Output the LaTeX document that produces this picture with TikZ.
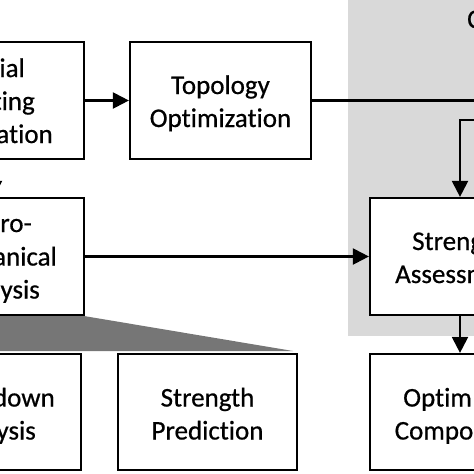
\documentclass[tikz,border=0pt]{standalone}
\usepackage{fontspec}
\setmainfont{Carlito}[Ligatures=NoCommon,FakeBold=0.6]
\usetikzlibrary{arrows.meta}
\definecolor{panelgray}{HTML}{D9D9D9}
\definecolor{zoomgray}{HTML}{767676}
\begin{document}
\begin{tikzpicture}[x=1pt,y=-1pt,
  box/.style={draw, line width=2.2pt, fill=white, inner sep=0pt},
  txt/.style={inner sep=0pt, font=\fontsize{27}{33}\selectfont},
  conn/.style={line width=2.2pt},
  arr/.style={conn, -{Triangle[length=16pt,width=16pt]}}]
\useasboundingbox (0,0) rectangle (474,474);
% panels
\fill[panelgray] (348,-10) rectangle (484,336);
\fill[zoomgray] (-10,316) -- (84,316) -- (293,351) -- (-10,351) -- cycle;
% boxes
\node[box, minimum width=180pt, minimum height=117pt] (b1) at (-6,100.5) {};
\node[box, minimum width=181pt, minimum height=117pt] (b2) at (220.5,100.5) {};
\node[box, minimum width=180pt, minimum height=117pt] (b3) at (-6,256.5) {};
\node[box, minimum width=180pt, minimum height=117pt] (sa) at (460,256.5) {};
\node[box, minimum width=179pt, minimum height=116pt] (b5) at (-8.5,412) {};
\node[box, minimum width=179pt, minimum height=116pt] (sp) at (207.5,412) {};
\node[box, minimum width=180pt, minimum height=116pt] (oc) at (460,412) {};
% texts
\node[txt, anchor=base west] (tc) at (467,28) {C};
\node[txt, anchor=base east] (t1a) at (25,77) {ial};
\node[txt, anchor=base east] (t1b) at (35,110) {ting};
\node[txt, anchor=base east] (t1c) at (53,143) {ation};
\node[txt, anchor=base] (t2a) at (220.5,94) {Topology};
\node[txt, anchor=base] (t2b) at (220.5,127) {Optimization};
\node[txt, anchor=base east] (t3a) at (32,232) {ro-};
\node[txt, anchor=base east] (t3b) at (57,265.5) {anical};
\node[txt, anchor=base east] (t3c) at (40,298.5) {ysis};
\node[txt, anchor=base west] (tsa1) at (412,250) {Streng};
\node[txt, anchor=base west] (tsa2) at (395,283) {Assessm};
\node[txt, anchor=base east] (t5a) at (55,406.5) {down};
\node[txt, anchor=base east] (t5b) at (36,439.5) {ysis};
\node[txt, anchor=base] (tsp1) at (207.5,406.5) {Strength};
\node[txt, anchor=base] (tsp2) at (207.5,439.5) {Prediction};
\node[txt, anchor=base west] (toc1) at (403,406.5) {Optim};
\node[txt, anchor=base west] (toc2) at (394.5,439.5) {Compo};
% connectors
\coordinate (c1) at (484,100.5);
\coordinate (c2) at (484,120);
\draw[arr] (b1.east) -- (b2.west);
\draw[arr] (b1.south) -- (b3.north);
\draw[conn] (b2.east) -- (c1);
\draw[arr] (c2) -| (sa.north);
\draw[arr] (b3.east) -- (sa.west);
\draw[arr] (sa.south) -- (oc.north);
\end{tikzpicture}
\end{document}
